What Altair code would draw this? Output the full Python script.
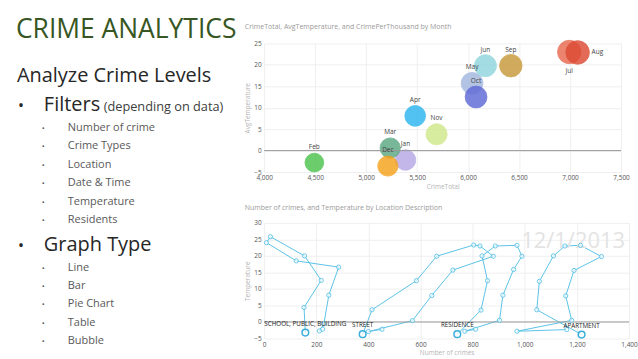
import altair as alt
import pandas as pd

# ---------------- slide text ----------------
slide_title = "CRIME ANALYTICS"
heading = "Analyze Crime Levels"
filters_label = "Filters"
filters_note = "(depending on data)"
filter_items = ["Number of crime", "Crime Types", "Location", "Date & Time", "Temperature", "Residents"]
graph_label = "Graph Type"
graph_items = ["Line", "Bar", "Pie Chart", "Table", "Bubble"]

# ---------------- bubble chart data ----------------
months = ["Jan", "Feb", "Mar", "Apr", "May", "Jun", "Jul", "Aug", "Sep", "Oct", "Nov", "Dec"]
crime_total = [5386, 4492, 5236, 5481, 6039, 6170, 6992, 7074, 6419, 6078, 5691, 5213]
avg_temperature = [-2.2, -2.8, 0.6, 8.1, 15.7, 19.8, 23.0, 22.9, 19.8, 12.5, 3.8, -3.6]
crime_per_thousand = [1.99, 1.66, 1.94, 2.03, 2.24, 2.29, 2.59, 2.62, 2.38, 2.25, 2.11, 1.93]
month_colors = ["#b6a8e6", "#4cc34c", "#5ba882", "#2bb5ee", "#a3b7de", "#8fd6dd",
                "#e8684f", "#dc4a33", "#c8993a", "#5f6ad6", "#d0e88a", "#f5a21b"]

# ---------------- line chart data ----------------
locations = ["SCHOOL, PUBLIC, BUILDING", "STREET", "RESIDENCE", "APARTMENT"]
school_crimes = [224, 212, 229, 248, 286, 123, 9, 24, 155, 219, 153, 158]
school_temp = [-2.2, -2.7, -0.6, 8.1, 16.6, 18.5, 24.0, 25.8, 20.0, 12.6, 4.4, -3.2]
street_crimes = [452, 400, 569, 643, 724, 879, 828, 804, 662, 584, 414, 378]
street_temp = [-2.2, -2.9, 0.4, 8.0, 15.7, 19.9, 23.0, 23.3, 19.9, 12.5, 3.7, -3.7]
residence_crimes = [811, 770, 903, 916, 957, 989, 970, 887, 836, 857, 832, 741]
residence_temp = [-2.2, -2.8, 0.5, 8.1, 15.9, 19.9, 23.2, 23.0, 20.0, 12.5, 3.6, -3.7]
apartment_crimes = [1161, 970, 1180, 1157, 1189, 1294, 1214, 1154, 1110, 1056, 1046, 1218]
apartment_temp = [-2.3, -2.8, 0.5, 7.9, 15.6, 19.8, 23.2, 23.0, 20.0, 12.3, 3.7, -3.8]
play_date = "12/1/2013"

FONT = "Open Sans"

# ---------------- left text panel ----------------
LEFT_W, LEFT_H = 238, 359
gaps = {("title", "heading"): 44, ("heading", "l1"): 29, ("l1", "l2"): 20,
        ("l2", "l2"): 18.4, ("l2", "l1"): 28}
seq = [("title", slide_title), ("heading", heading), ("l1", filters_label)]
seq += [("l2", t) for t in filter_items]
seq += [("l1", graph_label)]
seq += [("l2", t) for t in graph_items]
rows = []
pos = 38.0
prev = None
for kind, txt in seq:
    if prev is not None:
        pos += gaps[(prev, kind)]
    rows.append({"kind": kind, "text": txt, "pos": pos})
    if txt == filters_label:
        rows.append({"kind": "note", "text": filters_note, "pos": pos})
    prev = kind
text_df = pd.DataFrame(rows)

ypos = alt.Y("pos:Q", scale=alt.Scale(domain=[0, LEFT_H], range=[0, LEFT_H]), axis=None)
tbase = alt.Chart(text_df)


def text_layer(kind, x, size, color, bullet=None, weight="normal"):
    ch = tbase.transform_filter(alt.datum.kind == kind).mark_text(
        align="left", baseline="alphabetic", font=FONT, fontSize=size, color=color,
        fontWeight=weight, **({"text": bullet} if bullet else {}))
    enc = {"x": alt.value(x), "y": ypos}
    if not bullet:
        enc["text"] = "text:N"
    return ch.encode(**enc)


left = alt.layer(
    text_layer("title", 16, 26.5, "#375623"),
    text_layer("heading", 17, 20, "#262626"),
    text_layer("l1", 44, 20, "#262626"),
    text_layer("l1", 18, 16, "#262626", bullet="•"),
    text_layer("note", 104, 12.8, "#404040"),
    text_layer("l2", 68, 11, "#595959"),
    text_layer("l2", 42, 8, "#595959", bullet="•"),
).properties(width=LEFT_W, height=LEFT_H)

# ---------------- bubble chart ----------------
bubble_df = pd.DataFrame({"Month": months, "CrimeTotal": crime_total,
                          "AvgTemperature": avg_temperature,
                          "CrimePerThousand": crime_per_thousand,
                          "order": list(range(12))})

axis_common = dict(domain=False, ticks=False, labelFontSize=6.5, labelColor="#555555",
                   labelFont=FONT, titleFont=FONT, titleFontSize=6.5, titleColor="#b5b5b5",
                   titleFontWeight="normal", gridColor="#efefef", labelFlush=False,
                   labelOverlap=False)

TOP_Y = alt.Scale(domain=[-5, 25], nice=False)
top_x_axis = alt.Axis(values=list(range(4000, 7501, 500)), format=",.0f", title="CrimeTotal",
                      labelPadding=3, titlePadding=2, **axis_common)
top_y_axis = alt.Axis(values=list(range(-5, 26, 5)), format=".0f", title="AvgTemperature",
                      labelPadding=3, titlePadding=3, **axis_common)
bx = alt.X("CrimeTotal:Q", scale=alt.Scale(domain=[4000, 7500], nice=False), axis=top_x_axis)
by = alt.Y("AvgTemperature:Q", scale=TOP_Y, axis=top_y_axis)

bbase = alt.Chart(bubble_df)
zero_top = alt.Chart(pd.DataFrame({"z": [0]})).mark_rule(color="#9a9a9a", strokeWidth=1).encode(
    y=alt.Y("z:Q", scale=TOP_Y, axis=top_y_axis))
bubbles = bbase.mark_circle(opacity=0.82, strokeWidth=1, strokeOpacity=0.9).encode(
    x=bx, y=by,
    size=alt.Size("CrimePerThousand:Q", scale=alt.Scale(domain=[0, 3], range=[0, 636]), legend=None),
    color=alt.Color("Month:N", scale=alt.Scale(domain=months, range=month_colors), legend=None),
    stroke=alt.Stroke("Month:N", scale=alt.Scale(domain=months, range=month_colors), legend=None),
    order="order:Q",
)
lbl_kw = dict(font=FONT, fontSize=6.5, color="#444444", baseline="middle")
labels_above = bbase.transform_filter(
    (alt.datum.Month != "Jul") & (alt.datum.Month != "Aug")).mark_text(dy=-16, **lbl_kw).encode(
    x=bx, y=by, text="Month:N")
label_jul = bbase.transform_filter(alt.datum.Month == "Jul").mark_text(dy=19, **lbl_kw).encode(
    x=bx, y=by, text="Month:N")
label_aug = bbase.transform_filter(alt.datum.Month == "Aug").mark_text(dx=14, align="left", **lbl_kw).encode(
    x=bx, y=by, text="Month:N")

title_kw = dict(anchor="start", font=FONT, fontSize=7, color="#9a9a9a", fontWeight="normal")
top = alt.layer(bubbles, zero_top, labels_above, label_jul, label_aug).properties(
    width=358, height=129,
    title=alt.TitleParams("CrimeTotal, AvgTemperature, and CrimePerThousand by Month", offset=8, **title_kw))

# ---------------- line chart ----------------
series = {
    "SCHOOL, PUBLIC, BUILDING": (school_crimes, school_temp),
    "STREET": (street_crimes, street_temp),
    "RESIDENCE": (residence_crimes, residence_temp),
    "APARTMENT": (apartment_crimes, apartment_temp),
}
lrows = []
for loc in locations:
    cr, tp = series[loc]
    for i, m in enumerate(months):
        lrows.append({"Location": loc, "Month": m, "idx": i, "crimes": cr[i], "Temperature": tp[i]})
line_df = pd.DataFrame(lrows)

BOT_W = 366
BOT_Y = alt.Scale(domain=[-5, 30], nice=False)
bot_x_axis = alt.Axis(values=list(range(0, 1401, 200)), format=",.0f", title="Number of crimes",
                      labelPadding=3, titlePadding=2, **axis_common)
bot_y_axis = alt.Axis(values=list(range(-5, 31, 5)), format=".0f", title="Temperature",
                      labelPadding=3, titlePadding=3, **axis_common)
lx = alt.X("crimes:Q", scale=alt.Scale(domain=[0, 1400], nice=False), axis=bot_x_axis)
ly = alt.Y("Temperature:Q", scale=BOT_Y, axis=bot_y_axis)
LINE_COLOR = "#5cc3e6"
lbase = alt.Chart(line_df)
zero_bot = alt.Chart(pd.DataFrame({"z": [0]})).mark_rule(color="#9a9a9a", strokeWidth=1).encode(
    y=alt.Y("z:Q", scale=BOT_Y, axis=bot_y_axis))
watermark = alt.Chart(pd.DataFrame({"t": [play_date]})).mark_text(
    align="right", baseline="middle", font=FONT, fontSize=22, color="#e3e3e3").encode(
    x=alt.value(BOT_W - 4), y=alt.value(18), text="t:N")
paths = lbase.mark_line(color=LINE_COLOR, strokeWidth=1).encode(
    x=lx, y=ly, detail="Location:N", order="idx:Q")
pts = lbase.transform_filter(alt.datum.Month != "Dec").mark_point(
    shape="circle", fill="white", fillOpacity=0.6, stroke=LINE_COLOR, strokeWidth=0.9, size=18, opacity=1).encode(
    x=lx, y=ly)
cur = lbase.transform_filter(alt.datum.Month == "Dec").mark_point(
    shape="circle", fill="white", fillOpacity=0.6, stroke="#3aaedb", strokeWidth=1.5, size=45, opacity=1).encode(
    x=lx, y=ly)
loc_labels = lbase.transform_filter(alt.datum.Month == "Dec").mark_text(
    dy=-9, font=FONT, fontSize=6.3, color="#222222", baseline="middle").encode(
    x=lx, y=ly, text="Location:N")

bottom = alt.layer(paths, watermark, zero_bot, pts, cur, loc_labels).properties(
    width=BOT_W, height=116,
    title=alt.TitleParams("Number of crimes, and Temperature by Location Description", offset=9, **title_kw))

spacer = alt.Chart(pd.DataFrame({"a": [0]})).mark_rule(strokeWidth=0, strokeOpacity=0).encode(
    x=alt.value(0), x2=alt.value(1), y=alt.value(0)).properties(width=358, height=1)

right = alt.vconcat(spacer, alt.vconcat(top, bottom, spacing=14), spacing=21)

chart = alt.hconcat(left, right, spacing=7).properties(
    padding=0, background="white"
).configure_view(stroke=None)

chart.save("out.html", embed_options={"renderer": "svg", "actions": False})
